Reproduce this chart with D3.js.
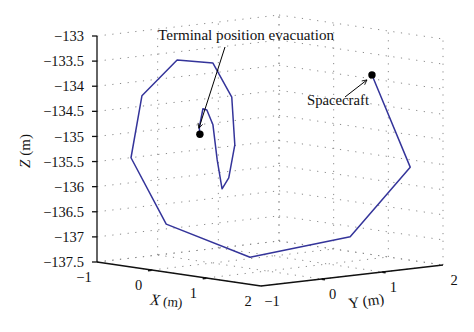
<!DOCTYPE html>
<html>
<head>
<meta charset="utf-8">
<script src="https://cdn.jsdelivr.net/npm/d3@7"></script>
<style>
  html, body { margin: 0; padding: 0; background: #fff; }
  svg { display: block; }
  text { font-family: "Liberation Serif", "Times New Roman", serif; fill: #111; }
</style>
</head>
<body>
<svg id="chart" width="474" height="332"></svg>
<script>
// ---- data ----
const xTicks = [-1, 0, 1, 2];
const yTicks = [-1, 0, 1, 2];
const zTicks = [-137.5, -137, -136.5, -136, -135.5, -135, -134.5, -134, -133.5, -133];
const xTickLabels = ["−1", "0", "1", "2"];
const yTickLabels = ["−1", "0", "1", "2"];
const zTickLabels = ["−137.5", "−137", "−136.5", "−136", "−135.5", "−135", "−134.5", "−134", "−133.5", "−133"];

// trajectory (spacecraft -> terminal position)
const trajX = [1.2, 1.6, 1.7, 1.2, 0.0, -0.5, -0.6, -0.4, 0.0, 0.4, 0.6, 0.5, 0.3, 0.1, 0.0, -0.1, -0.15, -0.15, -0.15];
const trajY = [1.55, 1.82, 0.74, -0.46, -0.76, -0.89, -0.62, -0.22, 0.01, -0.04, -0.17, -0.18, -0.11, -0.01, 0.01, 0.0, -0.02, -0.08, -0.07];
const trajZ = [-133.78, -135.59, -136.81, -137.13, -136.62, -135.36, -134.18, -133.49, -133.52, -134.13, -135.03, -135.70, -135.96, -135.43, -134.75, -134.47, -134.45, -134.82, -134.95];

// ---- projection (orthographic 3D view) ----
const xS = d3.scaleLinear().domain([-1, 2]).range([0, 1]);
const yS = d3.scaleLinear().domain([-1, 2]).range([0, 1]);
const zS = d3.scaleLinear().domain([-137.5, -133]).range([0, 1]);
const O = [97, 262], EX = [164, 24], EY = [182, -21], EZ = [0, -226];
function P(x, y, z) {
  const u = xS(x), v = yS(y), w = zS(z);
  return [O[0] + EX[0] * u + EY[0] * v + EZ[0] * w,
          O[1] + EX[1] * u + EY[1] * v + EZ[1] * w];
}
const xMin = -1, xMax = 2, yMin = -1, yMax = 2, zMin = -137.5, zMax = -133;

const svg = d3.select("#chart");
const grid = svg.append("g").attr("stroke", "#8a8a8a").attr("stroke-width", 1)
  .attr("stroke-dasharray", "1.2,6.5").attr("fill", "none");
function seg(g, a, b) {
  g.append("line").attr("x1", a[0]).attr("y1", a[1]).attr("x2", b[0]).attr("y2", b[1]);
}
// walls: X = xMin and Y = yMax; floor Z = zMin
zTicks.forEach(z => {
  seg(grid, P(xMin, yMin, z), P(xMin, yMax, z));
  seg(grid, P(xMin, yMax, z), P(xMax, yMax, z));
});
yTicks.forEach(y => {
  if (y !== yMin) seg(grid, P(xMin, y, zMin), P(xMin, y, zMax));
  seg(grid, P(xMin, y, zMin), P(xMax, y, zMin));
});
xTicks.forEach(x => {
  seg(grid, P(x, yMax, zMin), P(x, yMax, zMax));
  seg(grid, P(x, yMin, zMin), P(x, yMax, zMin));
});

// axes
const ax = svg.append("g").attr("stroke", "#111").attr("stroke-width", 1.3).attr("fill", "none");
seg(ax, P(xMin, yMin, zMin), P(xMin, yMin, zMax));
seg(ax, P(xMin, yMin, zMin), P(xMax, yMin, zMin));
seg(ax, P(xMax, yMin, zMin), P(xMax, yMax, zMin));

// z ticks + labels
zTicks.forEach((z, i) => {
  const p = P(xMin, yMin, z);
  seg(ax, [p[0] - 5, p[1]], p);
  svg.append("text").attr("x", p[0] - 13).attr("y", p[1]).attr("dy", "0.35em")
    .attr("text-anchor", "end").attr("font-size", 14.5).text(zTickLabels[i]);
});
// x ticks + labels
xTicks.forEach((x, i) => {
  const p = P(x, yMin, zMin);
  if (i > 0 && i < xTicks.length - 1) {
    const q = P(x, yMin - 0.06, zMin);
    ax.append("line").attr("x1", p[0]).attr("y1", p[1]).attr("x2", q[0]).attr("y2", q[1]).attr("stroke-width", 2);
  }
  svg.append("text").attr("x", p[0] - 13).attr("y", p[1] + 15).attr("dy", "0.35em")
    .attr("text-anchor", "middle").attr("font-size", 14.5).text(xTickLabels[i]);
});
// y ticks + labels
yTicks.forEach((y, i) => {
  const p = P(xMax, y, zMin);
  if (i > 0 && i < yTicks.length - 1) {
    const q = P(xMax + 0.06, y, zMin);
    ax.append("line").attr("x1", p[0]).attr("y1", p[1]).attr("x2", q[0]).attr("y2", q[1]).attr("stroke-width", 2);
  }
  svg.append("text").attr("x", p[0] + 11).attr("y", p[1] + 15).attr("dy", "0.35em")
    .attr("text-anchor", "middle").attr("font-size", 14.5).text(yTickLabels[i]);
});

// axis titles
const zt = svg.append("text").attr("transform", "translate(30,151) rotate(-90)")
  .attr("text-anchor", "middle").attr("font-size", 15);
zt.append("tspan").attr("font-style", "italic").text("Z");
zt.append("tspan").text(" (m)");
const xt = svg.append("text").attr("transform", "translate(166,306) rotate(5)")
  .attr("text-anchor", "middle").attr("font-size", 15.5);
xt.append("tspan").attr("font-style", "italic").text("X");
xt.append("tspan").attr("font-size", 13.5).text(" (m)");
svg.append("text").attr("transform", "translate(367,306) rotate(-8)")
  .attr("text-anchor", "middle").attr("font-size", 15).text("Y (m)");

// trajectory
const pts = trajX.map((x, i) => P(x, trajY[i], trajZ[i]));
svg.append("path").datum(pts).attr("d", d3.line())
  .attr("fill", "none").attr("stroke", "#34349a").attr("stroke-width", 1.5)
  .attr("stroke-linejoin", "round");

// markers
const start = pts[0], end = pts[pts.length - 1];
svg.append("circle").attr("cx", start[0]).attr("cy", start[1]).attr("r", 3.7).attr("fill", "#000");
svg.append("circle").attr("cx", end[0]).attr("cy", end[1]).attr("r", 3.7).attr("fill", "#000");

// annotations
svg.append("defs").append("marker").attr("id", "ah").attr("viewBox", "-8 -5 10 10")
  .attr("refX", 0).attr("refY", 0).attr("markerWidth", 8).attr("markerHeight", 8)
  .attr("orient", "auto").attr("markerUnits", "userSpaceOnUse")
  .append("path").attr("d", "M-6,-3 L0,0 L-6,3").attr("fill", "none").attr("stroke", "#000").attr("stroke-width", 1);

svg.append("line").attr("x1", 225).attr("y1", 47).attr("x2", end[0] - 1).attr("y2", end[1] - 6)
  .attr("stroke", "#000").attr("stroke-width", 1).attr("marker-end", "url(#ah)");
svg.append("text").attr("x", 246).attr("y", 40).attr("text-anchor", "middle")
  .attr("font-size", 15).attr("textLength", 176).attr("lengthAdjust", "spacingAndGlyphs")
  .text("Terminal position evacuation");

svg.append("line").attr("x1", 345).attr("y1", 97).attr("x2", start[0] - 5).attr("y2", start[1] + 5)
  .attr("stroke", "#000").attr("stroke-width", 1).attr("marker-end", "url(#ah)");
svg.append("text").attr("x", 338).attr("y", 105).attr("text-anchor", "middle")
  .attr("font-size", 14).attr("textLength", 62).attr("lengthAdjust", "spacingAndGlyphs")
  .text("Spacecraft");
</script>
</body>
</html>
